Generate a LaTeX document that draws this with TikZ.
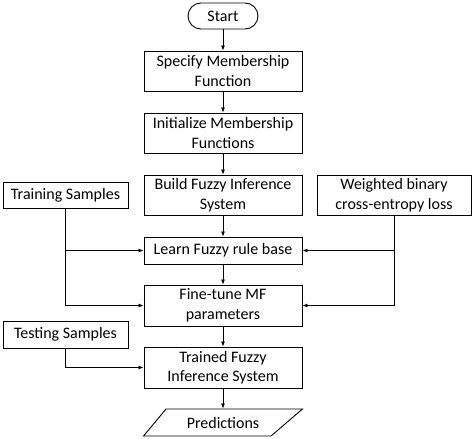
\documentclass[tikz,border=0pt]{standalone}
\usepackage{fontspec}
\setmainfont{Carlito}
\usetikzlibrary{arrows.meta,shapes.geometric}
\begin{document}
\begin{tikzpicture}[x=1pt,y=-1pt,
  box/.style={draw,line width=0.9pt,align=center,inner sep=0pt,font=\fontsize{16}{19.5}\selectfont},
  arr/.style={line width=0.8pt,-{Latex[length=5pt,width=4pt]}},
  ln/.style={line width=0.8pt}]
\useasboundingbox (0,0) rectangle (474,439);
\node[box,rounded corners=13pt,minimum width=70pt,minimum height=26pt] (start) at (223,16) {Start};
\node[box,minimum width=158pt,minimum height=40pt] (spec) at (223,71) {Specify Membership\\Function};
\node[box,minimum width=158pt,minimum height=40pt] (init) at (223,133) {Initialize Membership\\Functions};
\node[box,minimum width=158pt,minimum height=40pt] (build) at (223,195) {Build Fuzzy Inference\\System};
\node[box,minimum width=125pt,minimum height=26pt] (train) at (65.5,195.5) {Training Samples};
\node[box,minimum width=154pt,minimum height=40pt] (wbce) at (394,195) {Weighted binary\\cross-entropy loss};
\node[box,minimum width=158pt,minimum height=27pt] (learn) at (223,250.5) {Learn Fuzzy rule base};
\node[box,minimum width=158pt,minimum height=41pt] (fine) at (223,305.5) {Fine-tune MF\\parameters};
\node[box,minimum width=125pt,minimum height=27pt] (test) at (65.5,334.5) {Testing Samples};
\node[box,minimum width=158pt,minimum height=41pt] (trained) at (223,367.5) {Trained Fuzzy\\Inference System};
\node[box,draw=none,minimum width=158pt,minimum height=27pt] (pred) at (223,422.5) {Predictions};
\draw[line width=0.9pt] (143.5,436) -- (166,409) -- (302.5,409) -- (271,436) -- cycle;
\draw[arr] (start) -- (spec);
\draw[arr] (spec) -- (init);
\draw[arr] (init) -- (build);
\draw[arr] (build) -- (learn);
\draw[arr] (learn) -- (fine);
\draw[arr] (fine) -- (trained);
\draw[arr] (trained) -- (pred.north);
\draw[ln] (train.south) -- (train.south |- fine.west);
\draw[arr] (train.south |- learn.west) -- (learn.west);
\draw[arr] (train.south |- fine.west) -- (fine.west);
\draw[ln] (wbce.south) -- (wbce.south |- fine.east);
\draw[arr] (wbce.south |- learn.east) -- (learn.east);
\draw[arr] (wbce.south |- fine.east) -- (fine.east);
\draw[arr] (test.south) |- (trained.west);
\end{tikzpicture}
\end{document}
